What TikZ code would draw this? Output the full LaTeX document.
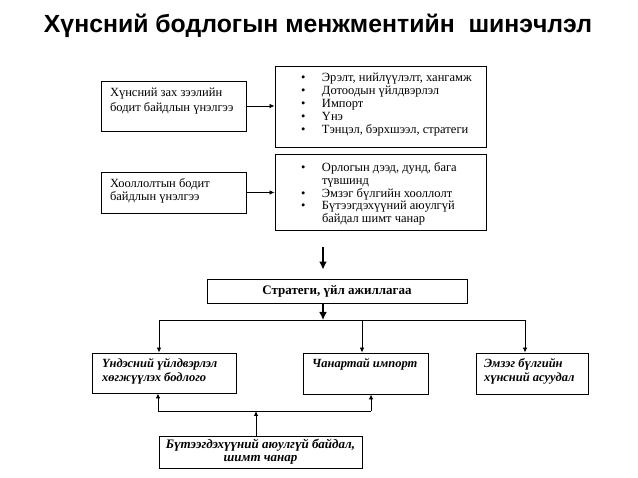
\documentclass[tikz,border=0pt]{standalone}
\usepackage{fontspec}
\setmainfont{Liberation Serif}
\newfontfamily\headfont{Liberation Sans}
\usetikzlibrary{arrows.meta,calc}
\tikzset{
	box/.style={draw, line width=0.9pt, inner sep=0pt, font=\fontsize{12.5}{13}\selectfont},
	goal/.style={box, font=\fontsize{12.5}{14}\selectfont\bfseries\itshape},
	flow/.style={->, line width=0.8pt},
	bigflow/.style={-{Latex[length=8pt,width=8pt]}, line width=2.6pt}
}
\newcommand{\cell}[3]{\parbox[t][#1][t]{#2}{#3}}
\newcommand{\blt}{\textbullet}

\begin{document}
\begin{tikzpicture}[x=1pt, y=-1pt, >={Latex[length=5pt,width=4.5pt]}]
	\useasboundingbox (0,0) rectangle (638,478);
	\node[font=\headfont\bfseries\fontsize{24.8}{28}\selectfont] (title) at (318,26) {Хүнсний бодлогын менжментийн \ шинэчлэл};
	
	\node[box, inner xsep=9pt, inner ysep=7pt] (zah) at (173.5,106) {\cell{36pt}{127pt}{Хүнсний зах зээлийн\\[2pt]
			бодит байдлын үнэлгээ}};
	
	\node[box, inner xsep=0pt, inner ysep=6pt] (erelt) at (380.5,106.5) {\cell{69pt}{211pt}{
			\begin{tabular}{@{\hspace{26pt}}p{21pt}@{}l@{}}
				\blt & Эрэлт, нийлүүлэлт, хангамж \\
				\blt & Дотоодын үйлдвэрлэл \\
				\blt & Импорт \\
				\blt & Үнэ \\
				\blt & Тэнцэл, бэрхшээл, стратеги
	\end{tabular}}};
	
	\node[box, inner xsep=9pt, inner ysep=7pt] (hool) at (173.5,192.5) {\cell{27pt}{127pt}{Хооллолтын бодит\\
			байдлын үнэлгээ}};
	
	\node[box, inner xsep=0pt, inner ysep=9pt, font=\fontsize{12.5}{12.5}\selectfont] (orlogo) at (380.5,192) {\cell{58pt}{211pt}{
			\begin{tabular}{@{\hspace{26pt}}p{21pt}@{}l@{}}
				\blt & Орлогын дээд, дунд, бага \\
				& түвшинд \\
				\blt & Эмзэг бүлгийн хооллолт \\
				\blt & Бүтээгдэхүүний аюулгүй \\
				& байдал шимт чанар
	\end{tabular}}};
	
	\node[box, font=\bfseries\fontsize{13}{14}\selectfont, minimum width=260pt, minimum height=24pt] (strat) at (337,291) {Стратеги, үйл ажиллагаа};
	
	\node[goal, inner xsep=10pt, inner ysep=5pt] (ulsyn) at (164,373) {\cell{30pt}{124pt}{Үндэсний үйлдвэрлэл\\
			хөгжүүлэх бодлого}};
	\node[goal, inner xsep=9pt, inner ysep=5pt] (import) at (365.5,373.5) {\cell{31pt}{107pt}{Чанартай импорт}};
	\node[goal, inner xsep=8pt, inner ysep=5pt] (emzeg) at (532,373.5) {\cell{31pt}{96pt}{Эмзэг бүлгийн\\
			хүнсний асуудал}};
	\node[goal, font=\fontsize{13}{13}\selectfont\bfseries\itshape, align=center, minimum width=203pt, minimum height=32pt] (shimt) at (260.5,452) {Бүтээгдэхүүний аюулгүй байдал,\\
		шимт чанар};
	
	\coordinate (spine) at (323,247);
	\coordinate (fork) at (323,320);
	\coordinate (f1) at (159,320);
	\coordinate (f2) at (362,320);
	\coordinate (f3) at (525,320);
	\coordinate (j0) at (256,411);
	\coordinate (j1) at (158,411);
	\coordinate (j2) at (371,411);
	
	\draw[flow] (zah.east) -- (zah.east -| erelt.west);
	\draw[flow] (hool.east) -- (hool.east -| orlogo.west);
	
	\draw[bigflow] (spine) -- ($(spine |- strat.north)+(0,-9)$);
	\draw[bigflow] (strat.south -| fork) -- (fork);
	
	\draw[line width=0.8pt] (f1) -- (f3);
	\draw[flow] (f1) -- (f1 |- ulsyn.north);
	\draw[flow] (f2) -- (f2 |- import.north);
	\draw[flow] (f3) -- (f3 |- emzeg.north);
	
	\draw[line width=0.8pt] (j1) -- (j2);
	\draw[flow] (j1) -- (j1 |- ulsyn.south);
	\draw[flow] (j2) -- (j2 |- import.south);
	\draw[flow] (j0 |- shimt.north) -- (j0);
\end{tikzpicture}
\end{document}
